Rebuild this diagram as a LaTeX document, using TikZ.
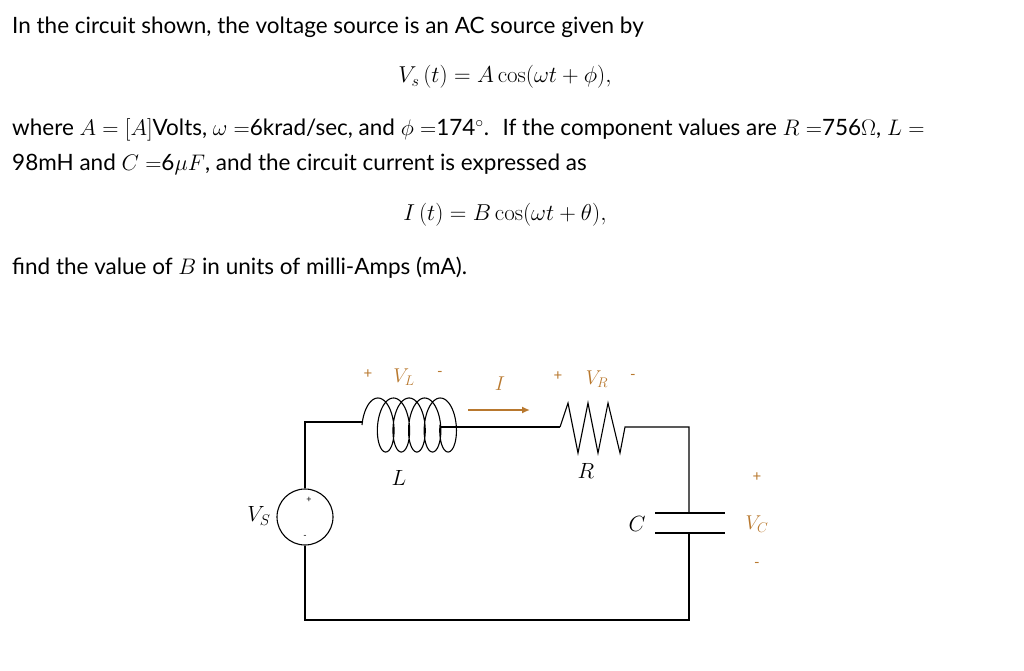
\documentclass[tikz,border=0pt]{standalone}
\usepackage{fix-cm}
\usepackage[no-math]{fontspec}
\setmainfont{Lato}
\usepackage{amsmath}
\usetikzlibrary{arrows.meta}
\definecolor{lbl}{HTML}{B8782E}
\begin{document}
\begin{tikzpicture}[x=1pt,y=-1pt,
  txt/.style={anchor=west,inner sep=0pt,font=\fontsize{22.5}{26}\selectfont},
  disp/.style={inner sep=0pt,font=\fontsize{23}{26}\selectfont},
  wire/.style={line width=1.1pt},
  lab/.style={inner sep=0pt,text=lbl,font=\fontsize{20}{22}\selectfont},
  pm/.style={inner sep=0pt,text=lbl,font=\fontsize{15}{17}\selectfont},
  blab/.style={inner sep=0pt,font=\fontsize{22}{24}\selectfont}]
\useasboundingbox (0,0) rectangle (1024,671);
\node[txt] (l1) at (12,27) {In the circuit shown, the voltage source is an AC source given by};
\node[disp] (l2) at (505,77) {$V_s\,(t) = A\cos(\omega t+\phi),$};
\node[txt] (l3) at (12,130) {where $A=[A]$Volts, $\omega=$6krad/sec, and $\phi=$174$^\circ$. \ If the component values are $R=$756$\Omega$, $L=$};
\node[txt] (l4) at (12,164) {98mH and $C=$6$\mu F$, and the circuit current is expressed as};
\node[disp] (l5) at (505,215) {$I\,(t) = B\cos(\omega t+\theta),$};
\node[txt] (l6) at (12,268) {find the value of $B$ in units of milli-Amps (mA).};
% circuit
\coordinate (tl) at (305,422);
\coordinate (bl) at (305,620);
\coordinate (br) at (689,620);
\coordinate (tr) at (689,427);
\node[circle,draw,wire,minimum size=56pt,inner sep=0pt] (vs) at (305,517) {};
\node[inner sep=0pt,font=\small] (vsp) at (309,500) {+};
\node[inner sep=0pt,font=\small] (vsm) at (305,537) {-};
\coordinate (li) at (362,422);
\coordinate (lo) at (441,427);
\coordinate (ri) at (560,427);
\coordinate (ro) at (625,427);
\coordinate (ct) at (689,513);
\coordinate (cb) at (689,533);
\draw[wire] (vs.north) -- (tl) -- (li);
\draw[wire] plot[domain=180:1980,samples=300,smooth] ({374+15.6*((\x-180)/360)+12*cos(\x)}, {425+27*sin(\x)});
\draw[wire] (lo) -- (ri);
\draw[wire] (ri) -- (568,403) -- (578,453) -- (588,403) -- (598,453) -- (608,403) -- (620,453) -- (ro) -- (tr) -- (ct);
\draw[wire] (655,513) -- (725,513);
\draw[wire] (655,533) -- (725,533);
\draw[wire] (cb) -- (br) -- (bl) -- (vs.south);
\draw[line width=1.8pt,lbl,-{Latex[length=8pt,width=7pt]}] (468,410) -- (530,410);
\node[lab] (iL) at (500,384) {$I$};
\node[pm] (lp) at (368,374) {+};
\node[lab] (vl) at (404,377) {$V_L$};
\node[pm] (lm) at (440,374) {-};
\node[pm] (rp) at (558,376) {+};
\node[lab] (vr) at (597,379) {$V_R$};
\node[pm] (rm) at (633,377) {-};
\node[blab] (Ll) at (399,478) {$L$};
\node[blab] (Rl) at (586,471) {$R$};
\node[blab] (Cl) at (637,524) {$C$};
\node[blab] (Vsl) at (259,516) {$V_S$};
\node[pm] (cp) at (757,477) {+};
\node[lab] (vc) at (757,524) {$V_C$};
\node[pm] (cm) at (757,565) {-};
\end{tikzpicture}
\end{document}
